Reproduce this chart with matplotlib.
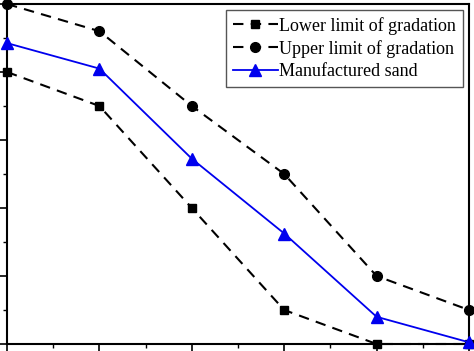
import matplotlib
matplotlib.use("Agg")
import matplotlib.pyplot as plt
from matplotlib.ticker import MultipleLocator, NullFormatter

sieves = [0, 1, 2, 3, 4, 5]
lower_limit = [80, 70, 40, 10, 0, 0]
upper_limit = [100, 92, 70, 50, 20, 10]
manufactured = [88.5, 81, 54.5, 32.5, 8, 0.5]

plt.rcParams['font.family'] = ['Liberation Serif', 'DejaVu Serif']

fig = plt.figure(figsize=(4.74, 3.51), dpi=100)
ax = fig.add_axes([7/474, 7/351, 462/474, 340/351])

dash = (0, (5, 3.5))
ax.plot(sieves, lower_limit, color='black', linestyle=dash, linewidth=1.5,
        marker='s', markersize=6, label='Lower limit of gradation', clip_on=False, zorder=3)
ax.plot(sieves, upper_limit, color='black', linestyle=dash, linewidth=1.5,
        marker='o', markersize=7, label='Upper limit of gradation', clip_on=False, zorder=3)
ax.plot(sieves, manufactured, color='#0000ee', linestyle='-', linewidth=1.3,
        marker='^', markersize=8, label='Manufactured sand', clip_on=False, zorder=4)

ax.set_xlim(0, 5)
ax.set_ylim(0, 100)
ax.xaxis.set_major_locator(MultipleLocator(1))
ax.xaxis.set_minor_locator(MultipleLocator(0.5))
ax.yaxis.set_major_locator(MultipleLocator(20))
ax.yaxis.set_minor_locator(MultipleLocator(10))
ax.xaxis.set_major_formatter(NullFormatter())
ax.yaxis.set_major_formatter(NullFormatter())
ax.tick_params(which='major', length=6, width=1.2, direction='out')
ax.tick_params(which='minor', length=3, width=1.0, direction='out')
for s in ax.spines.values():
    s.set_linewidth(1.5)

leg = ax.legend(loc='upper right', fontsize=13, fancybox=False, edgecolor='#555555',
                framealpha=1, borderaxespad=0.35, handlelength=2.5, handletextpad=0.1,
                labelspacing=0.3, borderpad=0.35)
leg.get_frame().set_linewidth(1.0)

fig.savefig('out.png', dpi=100)
